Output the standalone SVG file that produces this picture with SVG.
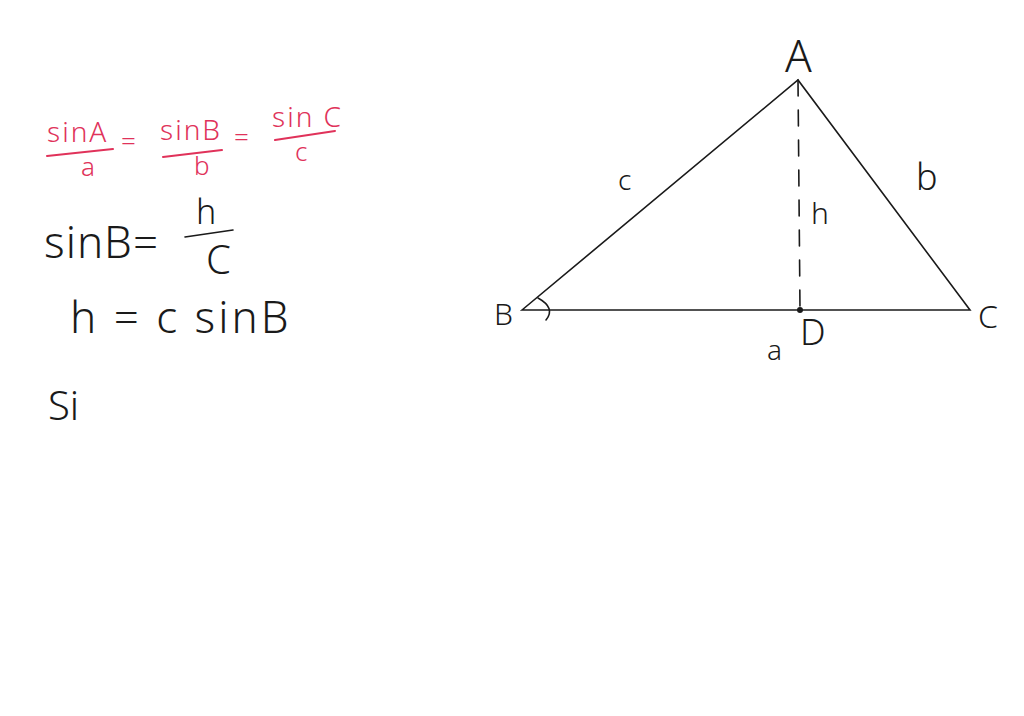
<svg xmlns="http://www.w3.org/2000/svg" width="1024" height="716" viewBox="0 0 1024 716">
<style>
.t{font-family:"Noto Sans","Open Sans",sans-serif;font-weight:300;fill:#1a1a1a}
.r{font-family:"Noto Sans","Open Sans",sans-serif;font-weight:300;fill:#e0325a}
.ln{stroke:#1a1a1a;stroke-width:1.6;fill:none;stroke-linecap:round}
.rl{stroke:#e0325a;stroke-width:2;fill:none;stroke-linecap:round}
</style>
<rect width="1024" height="716" fill="#fff"/>
<g id="formula-red">
<text class="r" x="47" y="142" font-size="28" letter-spacing="2">sinA</text>
<path class="rl" d="M47 156 L113 149"/>
<text class="r" x="81" y="176" font-size="26">a</text>
<text class="r" x="121" y="150" font-size="26">=</text>
<text class="r" x="160" y="140" font-size="28" letter-spacing="2">sinB</text>
<path class="rl" d="M163 157 L222 150"/>
<text class="r" x="194" y="175" font-size="26">b</text>
<text class="r" x="234" y="146" font-size="26">=</text>
<text class="r" x="272" y="127" font-size="28" letter-spacing="2">sin C</text>
<path class="rl" d="M275 140 L335 131"/>
<text class="r" x="295" y="161" font-size="26">c</text>
</g>
<g id="eq2">
<text class="t" x="44" y="258" font-size="44" letter-spacing="1">sinB=</text>
<path class="ln" d="M185 237 L233 230"/>
<text class="t" x="196" y="224" font-size="34">h</text>
<text class="t" x="206" y="274" font-size="40">C</text>
</g>
<g id="eq3">
<text class="t" x="70" y="333" font-size="44" letter-spacing="3">h = c sinB</text>
</g>
<g id="eq4">
<text class="t" x="48" y="420" font-size="40">Si</text>
</g>
<g id="connectors">
<path class="ln" d="M522 310 L798 80 L970 310 Z"/>
<path class="ln" d="M798 80 L800 310" stroke-dasharray="16 14"/>
<path class="ln" d="M538 298 Q556 308 546 320"/>
<circle cx="800" cy="310" r="3" fill="#1a1a1a"/>
</g>
<g id="labels">
<text class="t" x="785" y="72" font-size="44">A</text>
<text class="t" x="618" y="190" font-size="28">c</text>
<text class="t" x="916" y="190" font-size="36">b</text>
<text class="t" x="811" y="224" font-size="30">h</text>
<text class="t" x="494" y="325" font-size="30">B</text>
<text class="t" x="978" y="328" font-size="32">C</text>
<text class="t" x="800" y="345" font-size="36">D</text>
<text class="t" x="767" y="360" font-size="28">a</text>
</g>
</svg>
